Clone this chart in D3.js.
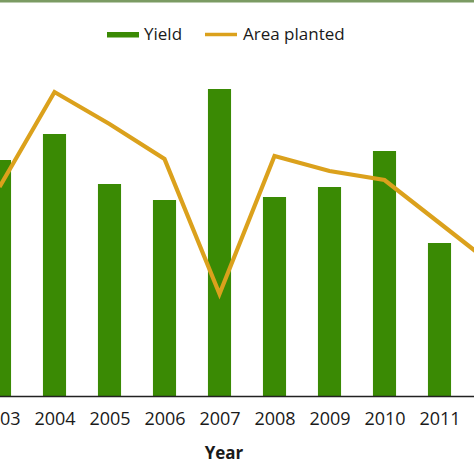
<!DOCTYPE html>
<html lang="en">
<head>
    <meta charset="UTF-8">
    <title>Yield and area planted</title>
    <style type="text/css">
        body {
            margin: 0;
            background: #fff;
        }
        #chart > svg {
            display: block;
        }
        .tick text {
            font-family: "Open Sans", sans-serif;
            font-size: 18px;
            fill: #1a1a1a;
        }
        .legend text {
            font-family: "Open Sans", sans-serif;
            font-size: 17px;
            fill: #1a1a1a;
        }
        .axis-title {
            font-family: "Open Sans", sans-serif;
            font-size: 17px;
            font-weight: bold;
            fill: #1a1a1a;
        }
    </style>
</head>
<body>
    <div id="chart"></div>
    <script src="https://cdnjs.cloudflare.com/ajax/libs/d3/7.8.5/d3.min.js"></script>
    <script type="text/javascript">
        // data (no y axis shown, units are relative)
        var years = [2003, 2004, 2005, 2006, 2007, 2008, 2009, 2010, 2011, 2012];
        var yieldValues = [2.36, 2.62, 2.12, 1.96, 3.07, 1.99, 2.09, 2.45, 1.53, null];
        var areaValues = [418, 608, 544, 474, 204, 480, 450, 432, 346, 260];
        // the 2012 label sits outside the cropped picture
        var tickLabels = ["2003", "2004", "2005", "2006", "2007", "2008", "2009", "2010", "2011", ""];

        var width = 474;
        var height = 474;
        var baseY = 396;

        var green = "#3a8a04";
        var gold = "#dba11c";

        var svg = d3.select("#chart")
            .append("svg")
            .attr("width", width)
            .attr("height", height);

        // thin frame line at the top of the figure
        svg.append("rect")
            .attr("x", 0).attr("y", 0)
            .attr("width", width).attr("height", 2.5)
            .attr("fill", "#7b9b63");

        // chart is cropped on both sides, so the range runs past the window
        var x = d3.scalePoint()
            .domain(years)
            .range([-0.5, 494.5]);
        var barW = x.step() * 0.42;

        var yYield = d3.scaleLinear().domain([0, 3.5]).range([baseY, 46]);
        var yArea = d3.scaleLinear().domain([0, 700]).range([baseY, 46]);

        var rows = years.map((yr, i) => ({ year: yr, yield: yieldValues[i], area: areaValues[i] }));

        svg.selectAll(".bar")
            .data(rows.filter(d => d.yield != null))
            .enter().append("rect")
            .attr("class", "bar")
            .attr("x", d => x(d.year) - barW / 2)
            .attr("y", d => yYield(d.yield))
            .attr("width", barW)
            .attr("height", d => baseY - yYield(d.yield))
            .attr("fill", green);

        var line = d3.line()
            .x(d => x(d.year))
            .y(d => yArea(d.area));

        svg.append("path")
            .datum(rows)
            .attr("d", line)
            .attr("fill", "none")
            .attr("stroke", gold)
            .attr("stroke-width", 4.2)
            .attr("stroke-linejoin", "miter");

        // x axis
        var xAxis = d3.axisBottom(x)
            .tickSize(0)
            .tickPadding(16)
            .tickFormat((d, i) => tickLabels[i]);

        var gx = svg.append("g")
            .attr("transform", `translate(0,${baseY})`)
            .call(xAxis);
        gx.select(".domain")
            .attr("stroke", "#222")
            .attr("stroke-width", 1.6);
        gx.selectAll(".tick text").attr("font-size", null).attr("font-family", null);
        gx.selectAll(".tick").filter((d, i) => tickLabels[i] === "").remove();

        svg.append("text")
            .attr("class", "axis-title")
            .attr("x", 224)
            .attr("y", 459)
            .attr("text-anchor", "middle")
            .text("Year");

        // legend
        var legend = svg.append("g").attr("class", "legend");
        legend.append("rect")
            .attr("x", 107).attr("y", 32)
            .attr("width", 32).attr("height", 5.5)
            .attr("fill", green);
        legend.append("text")
            .attr("x", 144).attr("y", 40)
            .text("Yield");
        legend.append("line")
            .attr("x1", 205).attr("x2", 237)
            .attr("y1", 34.5).attr("y2", 34.5)
            .attr("stroke", gold)
            .attr("stroke-width", 3.5);
        legend.append("text")
            .attr("x", 243).attr("y", 40)
            .text("Area planted");
    </script>
</body>
</html>
